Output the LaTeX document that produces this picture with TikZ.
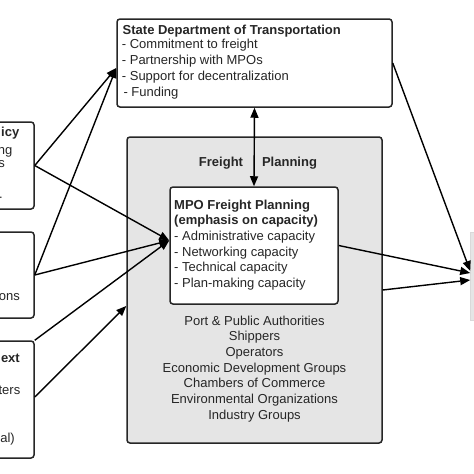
\documentclass[tikz,border=0pt]{standalone}
\usepackage{fontspec}
\setmainfont{Liberation Sans}
\usetikzlibrary{arrows.meta}

\begin{document}
\begin{tikzpicture}[x=1pt,y=-1pt,font=\fontsize{13}{15.7}\selectfont,
  >={Triangle[length=10pt,width=8pt]},
  box/.style={draw=black!85,line width=1.5pt,rounded corners=3pt,fill=white,inner sep=0pt},
  txt/.style={anchor=base west,inner sep=0pt,text=black!85},
  link/.style={line width=1.4pt,->}]
\useasboundingbox (0,0) rectangle (474,474);
\clip (0,0) rectangle (474,474);

% boxes
\node[box,minimum width=54pt,minimum height=87pt] (lba) at (7,165.5){};
\node[box,minimum width=54pt,minimum height=86pt] (lbb) at (7,275){};
\node[box,minimum width=54pt,minimum height=117pt] (lbc) at (7,399.5){};
\node[box,minimum width=275pt,minimum height=88pt] (dot) at (254.5,63){};
\node[box,fill=black!10,minimum width=255pt,minimum height=306pt] (fp) at (254.5,290){};
\node[box,minimum width=168pt,minimum height=117pt] (mpo) at (254,245.5){};
\node[draw=black!15,fill=black!10,line width=0.6pt,minimum width=29.5pt,minimum height=88pt] (rb) at (485.25,276){};

% state dot
\node[txt,font=\fontsize{13}{15.7}\selectfont\bfseries] (dott) at (122.5,34){State Department of Transportation};
\foreach \t [count=\i] in {- Commitment to freight,- Partnership with MPOs,- Support for decentralization}
  \node[txt] (dot\i) at (121.7,32.7+15.8*\i){\t};
\node[txt] (dotf) at (123.3,96){- Funding};

% freight planning
\node[txt,anchor=base,font=\fontsize{13}{15.7}\selectfont\bfseries] (fpa) at (221,166.7){Freight};
\node[txt,anchor=base,font=\fontsize{13}{15.7}\selectfont\bfseries] (fpb) at (289.5,166.7){Planning};

\node[txt,font=\fontsize{13}{15.7}\selectfont\bfseries] (mpot) at (174,209){MPO Freight Planning};
\node[txt,font=\fontsize{13}{15.7}\selectfont\bfseries] (mpos) at (174,224.5){(emphasis on capacity)};
\foreach \t [count=\i] in {- Administrative capacity,- Networking capacity,- Technical capacity,- Plan-making capacity}
  \node[txt] (mpo\i) at (174,225.1+15.6*\i){\t};

\foreach \t [count=\i] in {Port \& Public Authorities,Shippers,Operators,Economic Development Groups,Chambers of Commerce,Environmental Organizations,Industry Groups}
  \node[txt,anchor=base] (grp\i) at (254.5,309.3+15.7*\i){\t};

% left boxes (cut off)
\node[txt,anchor=base east,font=\fontsize{13}{15.7}\selectfont\bfseries] (lbat) at (19.5,136.7){icy};
\node[txt,anchor=base east] (lba1) at (12.5,154){ng};
\node[txt,anchor=base east] (lba2) at (5,167){s};
\node[txt,anchor=base east] (lba3) at (3,198){.};
\node[txt,anchor=base east] (lbb1) at (20,300){ons};
\node[txt,anchor=base east,font=\fontsize{13}{15.7}\selectfont\bfseries] (lbct) at (20,362){ext};
\node[txt,anchor=base east] (lbc1) at (20.5,394){ters};
\node[txt,anchor=base east] (lbc2) at (15,442){al)};

% connectors
\draw[link] (lba.east) -- ([yshift=-5pt]dot.west);
\draw[link] (lbb.east) -- ([yshift=-5pt]dot.west);
\draw[link] (lba.east) -- ([yshift=5pt]mpo.west);
\draw[link] (lbb.east) -- ([yshift=5pt]mpo.west);
\draw[link] (lbc.north east) -- ([yshift=5pt]mpo.west);
\draw[link] ([yshift=2.5pt]lbc.east) -- ([yshift=-16pt]fp.west);
\draw[link,<->] (dot.south) -- (mpo.north);
\draw[link] (dot.east) -- ([yshift=5pt]rb.west);
\draw[link] (mpo.east) -- ([yshift=3pt]rb.west);
\draw[link] (fp.east) -- ([yshift=-4pt]rb.west);
\end{tikzpicture}
\end{document}
